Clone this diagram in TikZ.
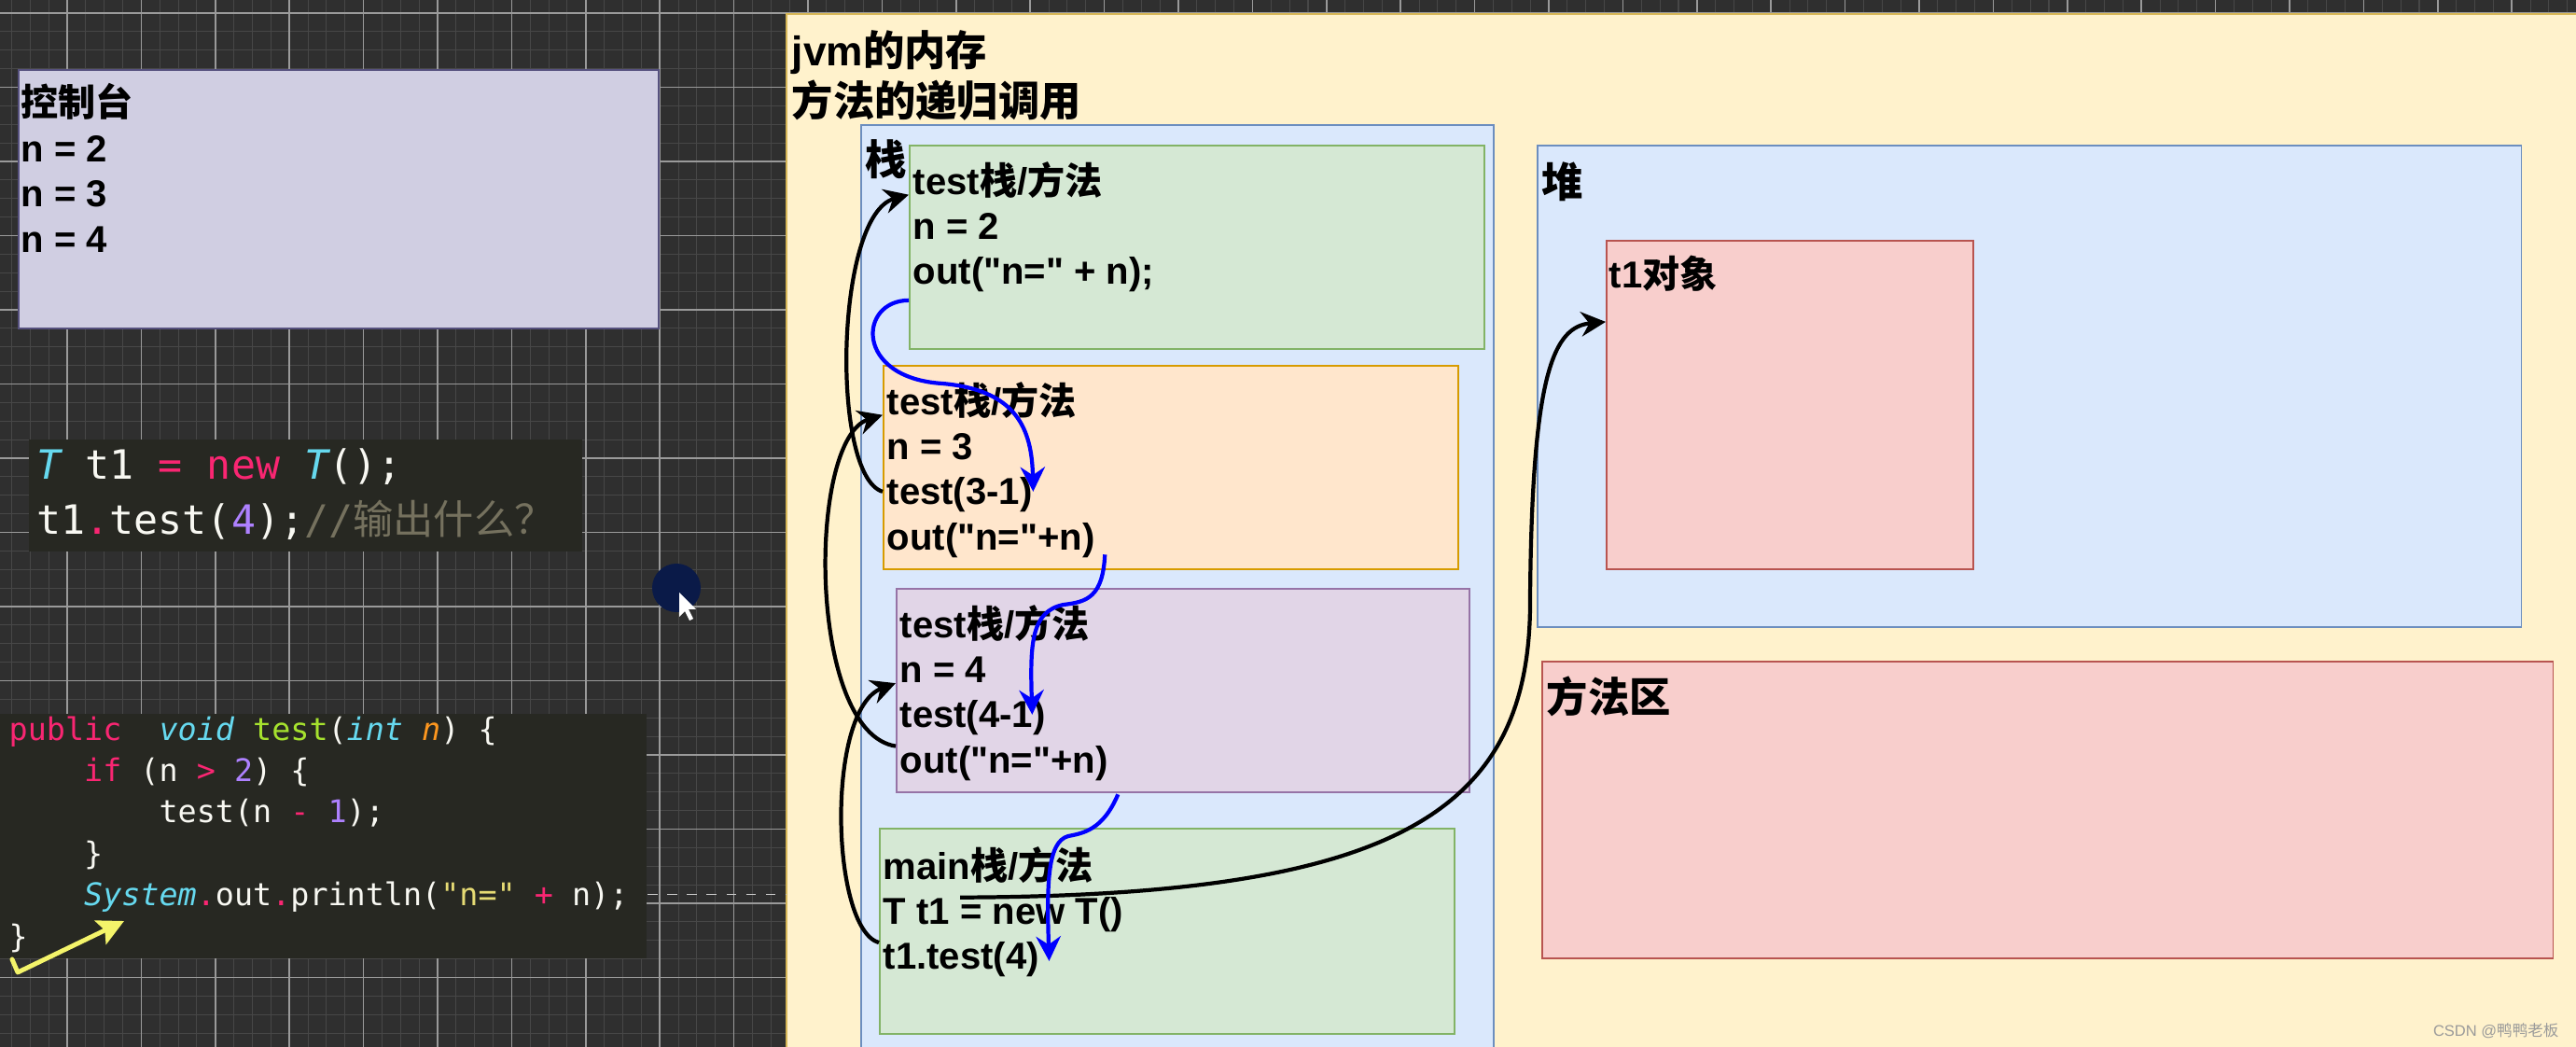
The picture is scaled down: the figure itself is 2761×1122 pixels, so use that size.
\documentclass[tikz,border=0pt]{standalone}
\usepackage{fontspec}
\setmainfont{Liberation Sans}[Ligatures=TeXOff]
\newfontfamily\cjk{Noto Sans CJK SC}
\newfontfamily\codefont{DejaVu Sans Mono}[Ligatures=TeXOff]
\usetikzlibrary{arrows.meta, positioning}

\definecolor{darkbg}{HTML}{2F2F2F}
\definecolor{gridminor}{HTML}{474747}
\definecolor{gridmajor}{HTML}{9A9A9A}
\definecolor{panelfill}{HTML}{FFF2CC}
\definecolor{panelline}{HTML}{D6B656}
\definecolor{consolefill}{HTML}{D0CEE2}
\definecolor{consoleline}{HTML}{56517E}
\definecolor{codebg}{HTML}{272822}
\definecolor{memfill}{HTML}{DAE8FC}
\definecolor{memline}{HTML}{6C8EBF}
\definecolor{greenfill}{HTML}{D5E8D4}
\definecolor{greenline}{HTML}{82B366}
\definecolor{orangefill}{HTML}{FFE6CC}
\definecolor{orangeline}{HTML}{D79B00}
\definecolor{purplefill}{HTML}{E1D5E7}
\definecolor{purpleline}{HTML}{9673A6}
\definecolor{redfill}{HTML}{F8CECC}
\definecolor{redline}{HTML}{B85450}
\definecolor{callblue}{HTML}{0000FF}
\definecolor{hilite}{HTML}{F4F46A}
\definecolor{cursorfill}{HTML}{0A1A48}
\definecolor{wmgray}{HTML}{9A9A9A}
\definecolor{mkwhite}{HTML}{F8F8F2}
\definecolor{mkpink}{HTML}{F92672}
\definecolor{mkcyan}{HTML}{66D9EF}
\definecolor{mkgreen}{HTML}{A6E22E}
\definecolor{mkpurple}{HTML}{AE81FF}
\definecolor{mkorange}{HTML}{FD971F}
\definecolor{mkyellow}{HTML}{E6DB74}
\definecolor{mkgray}{HTML}{75715E}

\newcommand\zh[1]{{\cjk #1}}
\newcommand\jkw[1]{\textcolor{mkpink}{#1}}
\newcommand\jty[1]{\textcolor{mkcyan}{\itshape #1}}
\newcommand\jfn[1]{\textcolor{mkgreen}{#1}}
\newcommand\jnum[1]{\textcolor{mkpurple}{#1}}
\newcommand\jpar[1]{\textcolor{mkorange}{\itshape #1}}
\newcommand\jstr[1]{\textcolor{mkyellow}{#1}}
\newcommand\jcom[1]{\textcolor{mkgray}{#1}}

\begin{document}
\begin{tikzpicture}[x=0.01cm, y=-0.01cm,
    node distance=0.19cm,
    box/.style={rectangle, draw, line width=0.5pt, anchor=north west, inner sep=0pt},
    ln/.style={inner sep=0pt, anchor=west, text height=0.28cm, text depth=0pt,
        font=\fontsize{11.4pt}{13pt}\selectfont\bfseries},
    hd/.style={ln, text height=0.31cm, font=\fontsize{12.6pt}{14pt}\selectfont\bfseries},
    codeln/.style={inner sep=0pt, anchor=west, text height=0.31cm, text depth=0pt,
        text=mkwhite, font=\fontsize{12.3pt}{14pt}\codefont},
    codesm/.style={codeln, text height=0.24cm, font=\fontsize{9.5pt}{11pt}\codefont},
    arrow/.style={-{Stealth[length=7.5pt, width=7.5pt, inset=2.5pt]}, line width=1.2pt},
    barrow/.style={arrow, draw=callblue},
    yarrow/.style={-{Stealth[length=8pt, width=8pt, inset=1.5pt]}, line width=1.4pt,
        draw=hilite, line join=round, line cap=round},
    minorline/.style={draw=gridminor, line width=0.3pt},
    majorline/.style={draw=gridmajor, line width=0.45pt}
]
\useasboundingbox (0,0) rectangle (2761,1122);
\clip (0,0) rectangle (2761,1122);

\fill[darkbg] (0,0) rectangle (2761,1122);
\foreach \i in {-1,...,56}
    \draw[minorline] (0,{14+\i*19.875}) -- (2761,{14+\i*19.875});
\foreach \i in {0,...,139}
    \draw[minorline] ({-7.4+\i*19.85},0) -- ({-7.4+\i*19.85},1122);
\foreach \i in {0,...,14}
    \draw[majorline] (0,{14+\i*79.5}) -- (2761,{14+\i*79.5});
\foreach \i in {0,...,35}
    \draw[majorline] ({-7.4+\i*79.4},0) -- ({-7.4+\i*79.4},1122);

\node[box, fill=consolefill, draw=consoleline, minimum width=6.86cm, minimum height=2.77cm] (console) at (19,74) {};
\node[ln] (c0) at ([shift={(3,37)}]console.north west) {\zh{控制台}};
\node[ln, below=of c0.south west, anchor=north west] (c1) {n = 2};
\node[ln, below=of c1.south west, anchor=north west] (c2) {n = 3};
\node[ln, below=of c2.south west, anchor=north west] (c3) {n = 4};

\node[box, fill=codebg, draw=none, minimum width=5.93cm, minimum height=1.2cm] (code1) at (30,470) {};
\node[codeln] (cd1) at ([shift={(9,28)}]code1.north west) {\jty{T} t1 \jkw{=} \jkw{new} \jty{T}();};
\node[codeln, below=0.27cm of cd1.south west, anchor=north west] (cd2) {t1\jkw{.}test(\jnum{4});\jcom{//\zh{输出什么？}}};

\node[box, fill=codebg, draw=none, minimum width=6.94cm, minimum height=2.62cm] (code2) at (-2,764) {};
\node[codesm] (cl1) at ([shift={(11,17)}]code2.north west) {\jkw{public}\ \ \jty{void} \jfn{test}(\jty{int} \jpar{n}) \{};
\node[codesm, below=of cl1.south west, anchor=north west] (cl2) {\ \ \ \ \jkw{if} (n \jkw{>} \jnum{2}) \{};
\node[codesm, below=of cl2.south west, anchor=north west] (cl3) {\ \ \ \ \ \ \ \ test(n \jkw{-} \jnum{1});};
\node[codesm, below=of cl3.south west, anchor=north west] (cl4) {\ \ \ \ \}};
\node[codesm, below=of cl4.south west, anchor=north west] (cl5) {\ \ \ \ \jty{System}\jkw{.}out\jkw{.}println(\jstr{"n="} \jkw{+} n);};
\node[codesm, below=of cl5.south west, anchor=north west] (cl6) {\}};

\coordinate (ya) at (13,1028);
\coordinate (yb) at (19,1042);
\coordinate (yc) at (133,987);
\draw[yarrow] (ya) -- (yb) -- (yc);

\fill[cursorfill] (725,630) circle (0.26cm);
\fill[white] (728,635) -- (728,661) -- (734,655) -- (739,665) -- (743,663) -- (738,653) -- (746,653) -- cycle;

\node[box, fill=panelfill, draw=panelline, minimum width=19.3cm, minimum height=11.2cm] (jvm) at (842,14) {};
\draw[white!80!black, dashed, line width=0.4pt] (code2.east |- cl5) -- (jvm.west |- cl5);
\node[hd] (ttl1) at ([shift={(6,41)}]jvm.north west) {jvm\zh{的内存}};
\node[hd, below=0.22cm of ttl1.south west, anchor=north west] (ttl2) {\zh{方法的递归调用}};

\node[box, fill=memfill, draw=memline, minimum width=6.78cm, minimum height=10cm] (stack) at (922,133) {};
\node[hd] (stk) at ([shift={(5,39)}]stack.north west) {\zh{栈}};

\node[box, fill=greenfill, draw=greenline, minimum width=6.16cm, minimum height=2.18cm] (f2) at (974,155) {};
\node[ln] (f2a) at ([shift={(4,39)}]f2.north west) {test\zh{栈}/\zh{方法}};
\node[ln, below=of f2a.south west, anchor=north west] (f2b) {n = 2};
\node[ln, below=of f2b.south west, anchor=north west] (f2c) {out("n=" + n);};

\node[box, fill=orangefill, draw=orangeline, minimum width=6.16cm, minimum height=2.18cm] (f3) at (946,391) {};
\node[ln] (f3a) at ([shift={(4,39)}]f3.north west) {test\zh{栈}/\zh{方法}};
\node[ln, below=of f3a.south west, anchor=north west] (f3b) {n = 3};
\node[ln, below=of f3b.south west, anchor=north west] (f3c) {test(3-1)};
\node[ln, below=of f3c.south west, anchor=north west] (f3d) {out("n="+n)};

\node[box, fill=purplefill, draw=purpleline, minimum width=6.14cm, minimum height=2.18cm] (f4) at (960,630) {};
\node[ln] (f4a) at ([shift={(4,39)}]f4.north west) {test\zh{栈}/\zh{方法}};
\node[ln, below=of f4a.south west, anchor=north west] (f4b) {n = 4};
\node[ln, below=of f4b.south west, anchor=north west] (f4c) {test(4-1)};
\node[ln, below=of f4c.south west, anchor=north west] (f4d) {out("n="+n)};

\node[box, fill=greenfill, draw=greenline, minimum width=6.16cm, minimum height=2.2cm] (fm) at (942,887) {};
\node[ln] (fma) at ([shift={(4,41)}]fm.north west) {main\zh{栈}/\zh{方法}};
\node[ln, below=of fma.south west, anchor=north west] (fmb) {T t1 = new T()};
\node[ln, below=of fmb.south west, anchor=north west] (fmc) {t1.test(4)};

\node[box, fill=memfill, draw=memline, minimum width=10.54cm, minimum height=5.16cm] (heap) at (1647,155) {};
\node[hd] (hp) at ([shift={(5,41)}]heap.north west) {\zh{堆}};
\node[box, fill=redfill, draw=redline, minimum width=3.93cm, minimum height=3.52cm] (obj) at (1721,257) {};
\node[ln] (objl) at ([shift={(3,37)}]obj.north west) {t1\zh{对象}};

\node[box, fill=redfill, draw=redline, minimum width=10.83cm, minimum height=3.18cm] (mtd) at (1652,708) {};
\node[hd] (mtdl) at ([shift={(5,40)}]mtd.north west) {\zh{方法区}};

\draw[arrow] (f3.west |- f3c) .. controls (890,510) and (895,230) .. (f2.west |- f2a.south);
\draw[arrow] (f4.west |- f4d.north) .. controls (865,785) and (865,470) .. (f3.west |- f3a.south);
\draw[arrow] (fm.west |- fmc.north) .. controls (890,995) and (885,760) .. (f4.west |- f4b.south);
\draw[arrow] ([xshift=0.83cm]fmb.north west) .. controls (1500,960) and (1642,870) .. (1640,640)
    .. controls (1642,400) and (1665,350) .. ([yshift=0.89cm]obj.west);

\draw[barrow] ([yshift=0.53cm]f2.south west) .. controls (920,322) and (915,405) .. (1010,411)
    .. controls (1090,418) and (1106,460) .. (f3c.east);
\draw[barrow] ([shift={(10,19)}]f3d.east) .. controls (1182,640) and (1165,645) .. (1140,648)
    .. controls (1105,655) and (1104,690) .. ([xshift=-0.15cm]f4c.east);
\draw[barrow] ([shift={(10,37)}]f4d.east) .. controls (1182,890) and (1160,893) .. (1145,896)
    .. controls (1122,902) and (1122,950) .. ([shift={(10,5)}]fmc.east);

\node[anchor=east, inner sep=0pt, text=wmgray, font=\fontsize{4.7pt}{5pt}\selectfont] (wm) at (2743,1105) {CSDN @\zh{鸭鸭老板}};
\end{tikzpicture}
\end{document}
